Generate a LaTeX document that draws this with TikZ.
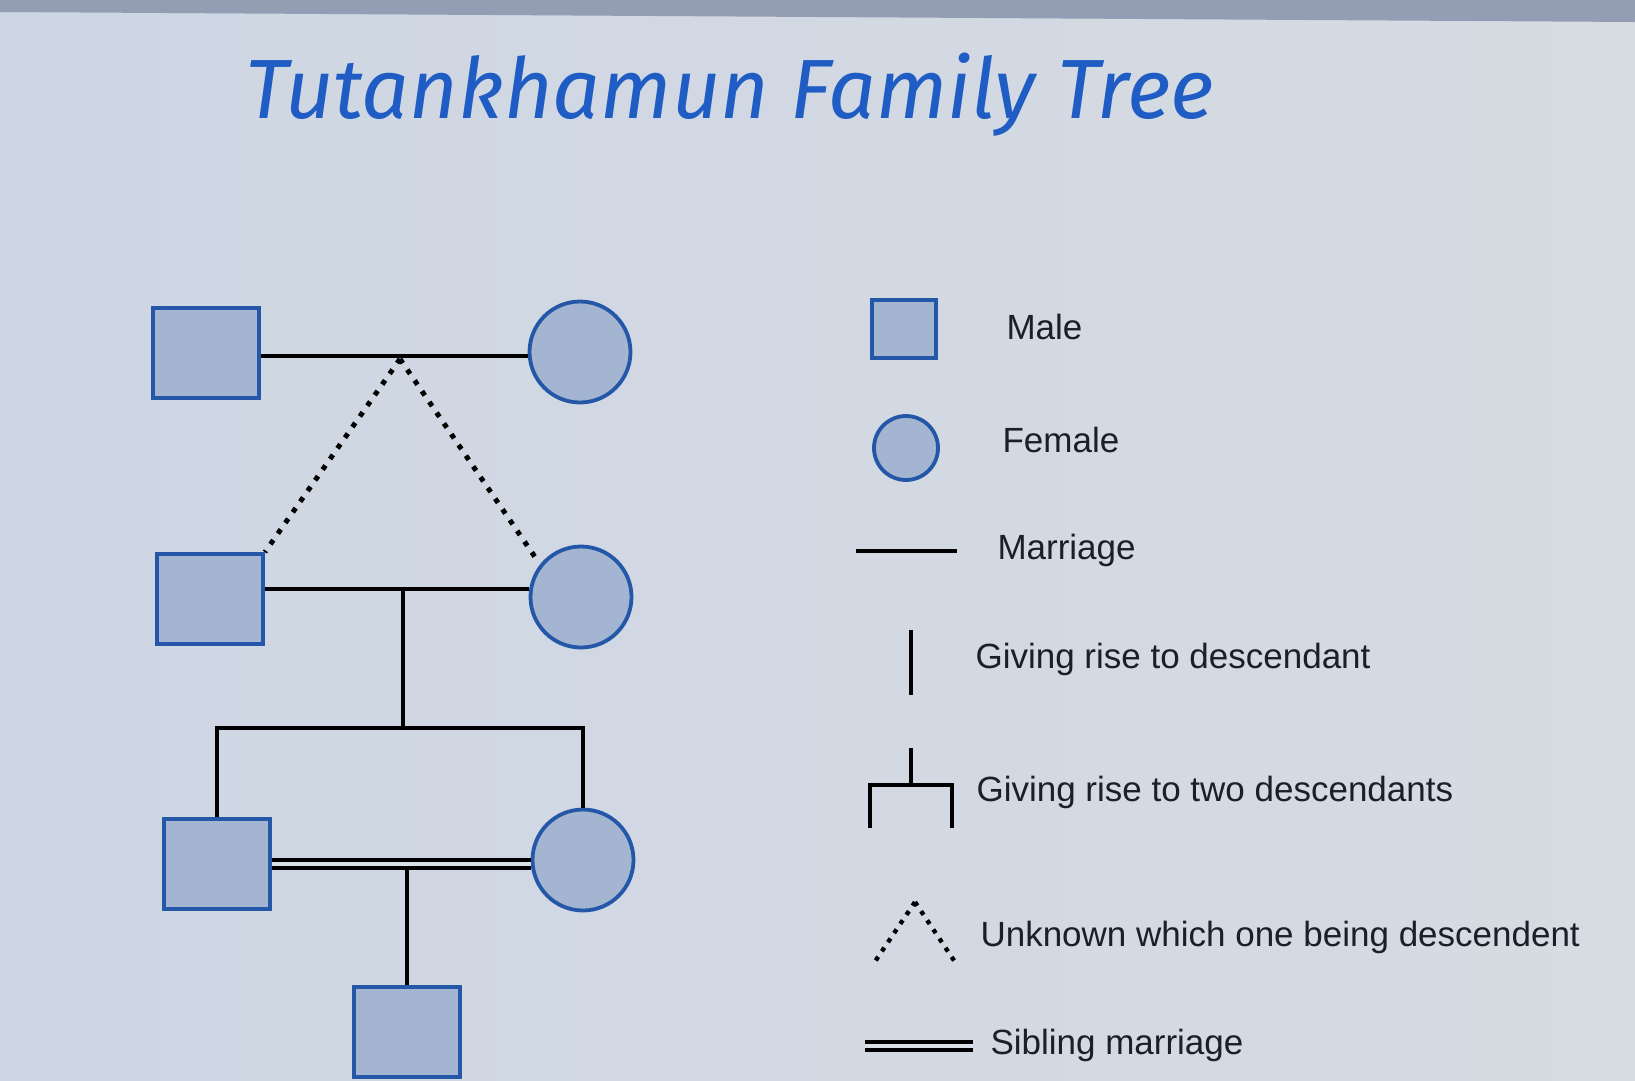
\documentclass[tikz,border=0pt]{standalone}
\usepackage{fontspec}
\usepackage{graphicx}
\usepackage{xcolor}
\setmainfont{Liberation Sans}
\newfontfamily\titlefont{Fira Sans}
\usetikzlibrary{calc}
\definecolor{screenL}{HTML}{CDD6E3}
\definecolor{screenM}{HTML}{DFE3E9}
\definecolor{screenR}{HTML}{D7DBE2}
\definecolor{screen}{HTML}{DADFE6}
\definecolor{bezel}{HTML}{939EB4}
\definecolor{bodyblue}{HTML}{A4B5D1}
\definecolor{edgeblue}{HTML}{2457A8}
\definecolor{titleblue}{HTML}{1F5CC4}
\definecolor{keyink}{HTML}{1A1F2A}
\tikzset{male/.style={rectangle,draw=edgeblue,fill=bodyblue,line width=3.8pt,minimum width=106pt,minimum height=90pt,inner sep=0pt},
	female/.style={circle,draw=edgeblue,fill=bodyblue,line width=3.8pt,minimum size=101pt,inner sep=0pt},
	bond/.style={line width=4.4pt,color=black},
	sibling/.style={line width=3.8pt,double=screen,double distance=4.2pt},
	unknown/.style={line width=5pt,dash pattern=on 5pt off 8pt},
	key label/.style={anchor=base west,text=keyink,font=\fontsize{35}{40}\selectfont}}

\begin{document}
\begin{tikzpicture}[x=1pt,y=-1pt]
	\useasboundingbox (0,0) rectangle (1635,1080);
	\shade[left color=screenL,middle color=screenM,right color=screenR] (0,0) rectangle (1635,1080);
	\fill[bezel] (0,0) -- (1635,0) -- (1635,22) -- (0,12) -- cycle;
	\node[anchor=base west,text=titleblue,font=\titlefont\itshape\fontsize{60}{70}\selectfont] (title) at (242,118) {\resizebox{968pt}{!}{Tutankhamun Family Tree}};
	% tree
	\node[male] (m1) at (206,353) {};
	\node[female] (f1) at (580,352) {};
	\node[male] (m2) at (210,599) {};
	\node[female] (f2) at (581,597) {};
	\node[male] (m3) at (217,864) {};
	\node[female] (f3) at (583,860) {};
	\node[male] (m4) at (407,1032) {};
	\coordinate (j1) at (400,356);
	\coordinate (u1) at (400,359);
	\coordinate (u2) at (535,557);
	\coordinate (j2) at (403,589);
	\coordinate (b2) at (403,728);
	\coordinate (j3) at (407,864);
	\coordinate (j3b) at (407,868);
	\draw[bond] (m1.east |- j1) -- (f1.west |- j1);
	\draw[unknown] (u1) -- (m2.north east);
	\draw[unknown] (u1) -- (u2);
	\draw[bond] (m2.east |- j2) -- (f2.west |- j2);
	\draw[bond] (j2) -- (b2);
	\draw[bond] (m3.north) |- (b2) -| (f3.north);
	\draw[sibling] (m3.east |- j3) -- (f3.west |- j3);
	\draw[bond] (j3b) -- (m4.north);
	% key
	\node[male,minimum width=64pt,minimum height=58pt] (kmale) at (904,329) {};
	\node[female,minimum size=64pt] (kfemale) at (906,448) {};
	\node[key label] (tmale) at (1003,339) {Male};
	\node[key label] (tfemale) at (999,452) {Female};
	\coordinate (km1) at (856,551);
	\coordinate (km2) at (957,551);
	\draw[bond] (km1) -- (km2);
	\node[key label] (tmarriage) at (994,559) {Marriage};
	\coordinate (kd1) at (911,630);
	\coordinate (kd2) at (911,695);
	\draw[bond] (kd1) -- (kd2);
	\node[key label] (tdesc) at (972,668) {Giving rise to descendant};
	\coordinate (kt1) at (911,748);
	\coordinate (kt2) at (911,785);
	\coordinate (ktl) at (870,828);
	\coordinate (ktr) at (952,828);
	\draw[bond] (kt1) -- (kt2);
	\draw[bond] (ktl) |- (kt2) -| (ktr);
	\node[key label] (ttwo) at (973,801) {Giving rise to two descendants};
	\coordinate (ku) at (915,902);
	\coordinate (kul) at (874,963);
	\coordinate (kur) at (955,962);
	\draw[unknown,line width=4.4pt,dash pattern=on 4.4pt off 6.6pt] (ku) -- (kul);
	\draw[unknown,line width=4.4pt,dash pattern=on 4.4pt off 6.6pt] (ku) -- (kur);
	\node[key label] (tunknown) at (977,946) {Unknown which one being descendent};
	\coordinate (ks1) at (865,1046);
	\coordinate (ks2) at (973,1046);
	\draw[sibling] (ks1) -- (ks2);
	\node[key label] (tsibling) at (987,1054) {Sibling marriage};
\end{tikzpicture}
\end{document}
